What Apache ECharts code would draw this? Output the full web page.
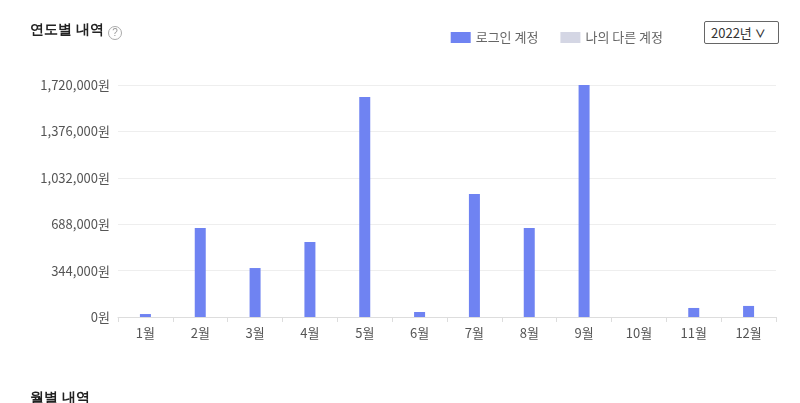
<!DOCTYPE html><html><head><meta charset="utf-8"><script src="https://cdn.jsdelivr.net/npm/echarts@6/dist/echarts.min.js"></script>
<style>body{margin:0;background:#fff;font-family:"Noto Sans CJK KR",sans-serif}
#c{position:absolute;left:0;top:0;width:800px;height:403px}
#sel{position:absolute;left:704px;top:21px;width:75px;height:23px;border:1px solid #666;border-radius:2px;font-size:13px;color:#333;line-height:21px;padding-left:6px;box-sizing:border-box;background:#fff}
</style></head><body><div id="c"></div><div id="sel">2022년 <span style="font-size:11px;font-weight:bold">&#x2228;</span></div>
<script>
const categories=['1월','2월','3월','4월','5월','6월','7월','8월','9월','10월','11월','12월'];
const loginValues=[22000,660000,363000,556000,1631000,37000,912000,660000,1720000,0,67000,82000];
const otherValues=[0,0,0,0,0,0,0,0,0,0,0,0];
const yTicks=[0,344000,688000,1032000,1376000,1720000];
const ch=echarts.init(document.getElementById('c'));
const fmt=v=>v.toLocaleString('en-US')+'원';
ch.setOption({
 textStyle:{fontFamily:'Noto Sans CJK KR'},
 graphic:[
  {type:'text',left:30,top:23,style:{text:'연도별 내역',fontSize:14,fontWeight:'bold',fill:'#222'}},
  {type:'circle',shape:{cx:115,cy:33,r:6.5},style:{fill:'#fff',stroke:'#aaa',lineWidth:1}},
  {type:'text',x:115,y:33,style:{text:'?',fontSize:10,fill:'#999',align:'center',verticalAlign:'middle'}},
  {type:'text',left:30,top:391,style:{text:'월별 내역',fontSize:14,fontWeight:'bold',fill:'#222'}}
 ],
 legend:{right:132,top:26,itemWidth:20,itemHeight:11,itemGap:22,textStyle:{fontSize:13,color:'#666'},icon:'rect'},
 grid:{left:118,right:24,top:85,bottom:86},
 xAxis:{type:'category',data:categories,axisLine:{lineStyle:{color:'#ddd'}},axisTick:{show:true,lineStyle:{color:'#ddd'}},axisLabel:{color:'#555',fontSize:13,margin:10}},
 yAxis:{type:'value',min:0,max:1720000,interval:344000,axisLabel:{formatter:fmt,color:'#555',fontSize:13},splitLine:{lineStyle:{color:'#eee'}}},
 series:[
  {name:'로그인 계정',type:'bar',stack:'a',data:loginValues,barWidth:11,itemStyle:{color:'#6f83f2'}},
  {name:'나의 다른 계정',type:'bar',stack:'a',data:otherValues,barWidth:11,itemStyle:{color:'#d4d6e4'}}
 ]
});
</script></body></html>
